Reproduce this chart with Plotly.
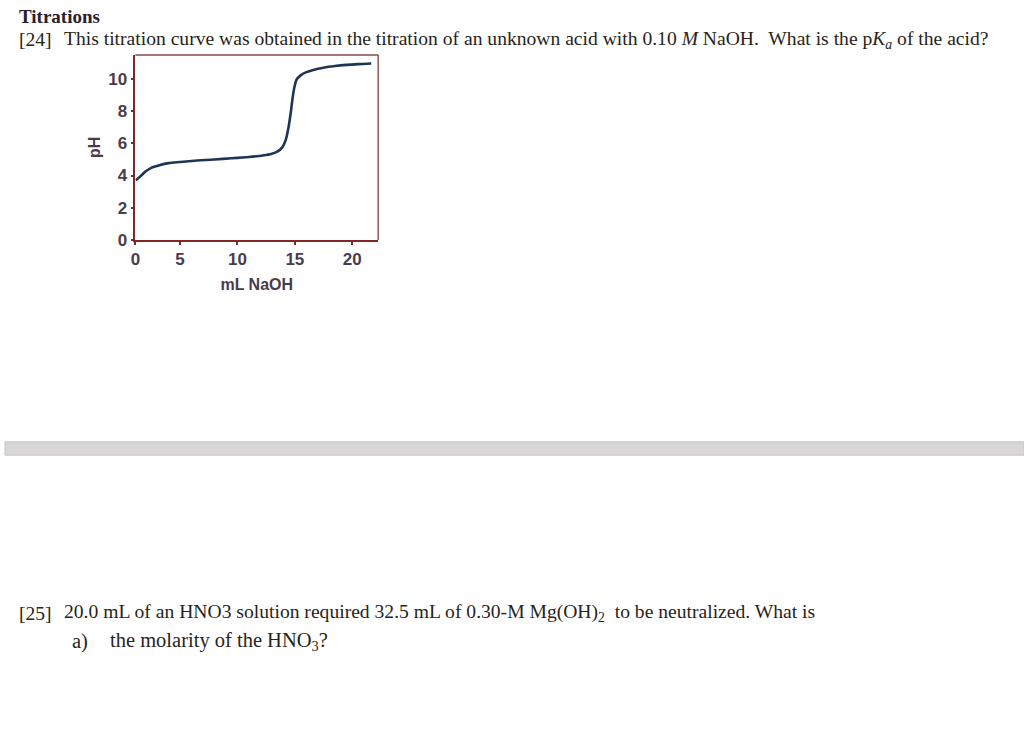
import plotly.graph_objects as go

# Titration curve data
ml_naoh = [1.15, 1.6, 2.0, 2.5, 3.0, 4.0, 5.0, 6.5, 8.0, 9.5, 11.0, 12.2, 13.0, 13.5,
           13.9, 14.2, 14.45, 14.65, 14.8, 14.95, 15.15, 15.5, 16.0, 16.6, 17.5, 18.5,
           19.5, 20.5, 21.65]
ph = [3.7, 3.98, 4.25, 4.48, 4.6, 4.77, 4.84, 4.93, 5.0, 5.07, 5.15, 5.24, 5.35, 5.5,
      5.75, 6.2, 7.0, 7.95, 8.8, 9.45, 9.95, 10.22, 10.42, 10.56, 10.7, 10.8,
      10.87, 10.92, 10.96]

x_tickvals = [1.12, 5, 10, 15, 20]
x_ticktext = ["0", "5", "10", "15", "20"]
y_tickvals = [0, 2, 4, 6, 8, 10]

W, H = 1024, 729
def px(x):
    return x / W
def py(y):
    return 1 - y / H

FRAME = "#822626"
FRAME2 = "#874a4a"
TICKC = "#4a3c48"
SERIF = "Liberation Serif"
TXT = "#27241a"

X0, X1 = 131, 375
Y0, Y1 = 243.3, 55.7

fig = go.Figure()
fig.add_trace(go.Scatter(
    x=ml_naoh, y=ph, mode="lines",
    line=dict(color="#1f3556", width=2.6, shape="spline", smoothing=0.8),
    hoverinfo="skip", showlegend=False,
))

axfont = dict(family="Liberation Sans", size=17, color=TICKC, weight="bold")
fig.update_layout(
    width=W, height=H,
    margin=dict(l=0, r=0, t=0, b=0),
    paper_bgcolor="white", plot_bgcolor="white",
    xaxis=dict(
        domain=[px(X0), px(X1)], range=[1.12, 22.25],
        tickvals=x_tickvals, ticktext=x_ticktext,
        showgrid=False, zeroline=False,
        showline=True, linecolor=FRAME, linewidth=1.6,
        ticks="outside", ticklen=3, tickcolor=FRAME, tickwidth=1.5,
        tickfont=axfont,
        title=dict(text="mL NaOH", font=dict(family="Liberation Sans", size=16, color=TICKC, weight="bold"), standoff=11),
    ),
    yaxis=dict(
        domain=[py(Y0), py(Y1)], range=[0, 11.49],
        tickvals=y_tickvals,
        showgrid=False, zeroline=False,
        showline=True, linecolor=FRAME, linewidth=1.6,
        ticks="outside", ticklen=3, tickcolor=FRAME, tickwidth=1.5,
        tickfont=axfont,
        title=dict(text="pH", font=dict(family="Liberation Sans", size=16, color=TICKC, weight="bold"), standoff=4),
    ),
)

# lighter top and right frame edges
fig.add_shape(type="line", xref="paper", yref="paper",
              x0=px(X0), x1=px(X1), y0=py(Y1), y1=py(Y1), line=dict(color=FRAME2, width=1.4))
fig.add_shape(type="line", xref="paper", yref="paper",
              x0=px(X1), x1=px(X1), y0=py(Y0), y1=py(Y1), line=dict(color=FRAME2, width=1.4))

def text(x, y, s, size=19.6, color=TXT):
    fig.add_annotation(x=px(x), y=py(y), xref="paper", yref="paper", text=s,
                       showarrow=False, xanchor="left", yanchor="middle",
                       xshift=-2, font=dict(family=SERIF, size=size, color=color))

text(14, 17, "<b>Titrations</b>", size=19, color="#2b202b")
text(14, 40.5, "[24]")
text(59, 40.5, "This titration curve was obtained in the titration of an unknown acid with 0.10 <i>M</i> NaOH.  What is the p<i>K<sub>a</sub></i> of the acid?")
text(14, 622, "[25]")
text(59, 622, "20.0 mL of an HNO3 solution required 32.5 mL of 0.30-M Mg(OH)<sub>2</sub>  to be neutralized. What is")
text(67, 650, "a)", size=20.5)
text(106, 650, "the molarity of the HNO<sub>3</sub>?", size=20.5)

# grey separator band spanning the whole page width
fig.add_shape(type="rect", xref="paper", yref="paper",
              x0=0, x1=1, y0=py(461.5), y1=py(448),
              fillcolor="#d8d6d6", line=dict(color="#c6c4c4", width=1), layer="below")

fig.write_html("out.html", config={"displayModeBar": False},
               post_script="document.body.style.margin='0';")
